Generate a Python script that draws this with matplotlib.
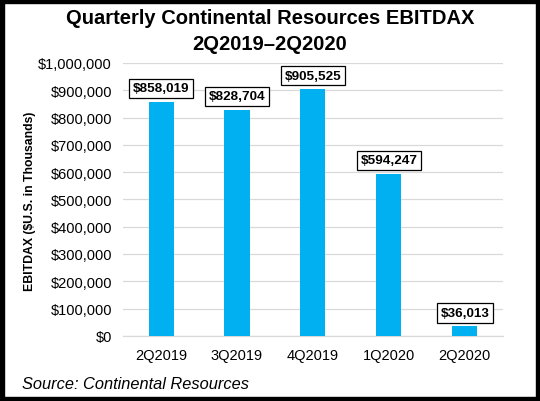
import matplotlib
matplotlib.use('Agg')
from matplotlib import pyplot as plt
from matplotlib.patches import Rectangle
from matplotlib.ticker import FuncFormatter

quarters = ['2Q2019', '3Q2019', '4Q2019', '1Q2020', '2Q2020']
ebitdax = [858019, 828704, 905525, 594247, 36013]

plt.rcParams['font.family'] = ['Liberation Sans', 'DejaVu Sans']

fig = plt.figure(figsize=(5.4, 4.02), dpi=100)
ax = fig.add_axes([0.228, 0.162, 0.703, 0.679])

x = range(len(quarters))
ax.bar(x, ebitdax, width=0.33, color='#00B0F0', zorder=3)

for i, v in enumerate(ebitdax):
    ax.annotate('${:,}'.format(v), xy=(i, v), xytext=(0, 9.5), textcoords='offset points',
                ha='center', va='center', fontsize=9.7, fontweight='bold', zorder=4,
                bbox=dict(boxstyle='square,pad=0.28', fc='white', ec='black', lw=0.9))

ax.set_ylim(0, 1000000)
ax.set_yticks(range(0, 1000001, 100000))
ax.yaxis.set_major_formatter(FuncFormatter(lambda v, p: '${:,.0f}'.format(v)))
ax.set_xlim(-0.5, len(quarters) - 0.5)
ax.set_xticks(list(x))
ax.set_xticklabels(quarters)
ax.tick_params(axis='both', length=0, labelsize=10.5, colors='black')
ax.tick_params(axis='y', pad=8)
ax.tick_params(axis='x', pad=9)
ax.grid(axis='y', color='#D9D9D9', lw=0.9, zorder=0)
for s in ['top', 'right', 'left']:
    ax.spines[s].set_visible(False)
ax.spines['bottom'].set_color('#D9D9D9')
ax.spines['bottom'].set_linewidth(0.9)

fig.text(0.055, 0.5, 'EBITDAX ($U.S. in Thousands)', rotation=90, ha='center', va='center',
         fontsize=8.8, fontweight='bold')

fig.text(0.5, 1 - 18 / 402, 'Quarterly Continental Resources EBITDAX', ha='center', va='center',
         fontsize=14.5, fontweight='bold')
fig.text(0.5, 1 - 45 / 402, '2Q2019\u20132Q2020', ha='center', va='center',
         fontsize=14.5, fontweight='bold')

fig.text(22 / 540, 1 - 385 / 402, 'Source: Continental Resources', ha='left', va='center',
         fontsize=11.8, style='italic')

# black frame around the whole picture
bw = 4 / 540
bh = 4 / 402
for r in [(0, 0, bw, 1), (1 - bw, 0, bw, 1), (0, 0, 1, bh), (0, 1 - bh, 1, bh)]:
    fig.patches.append(Rectangle(r[:2], r[2], r[3], transform=fig.transFigure,
                                 color='black', zorder=10))

fig.savefig('out.png', dpi=100)
